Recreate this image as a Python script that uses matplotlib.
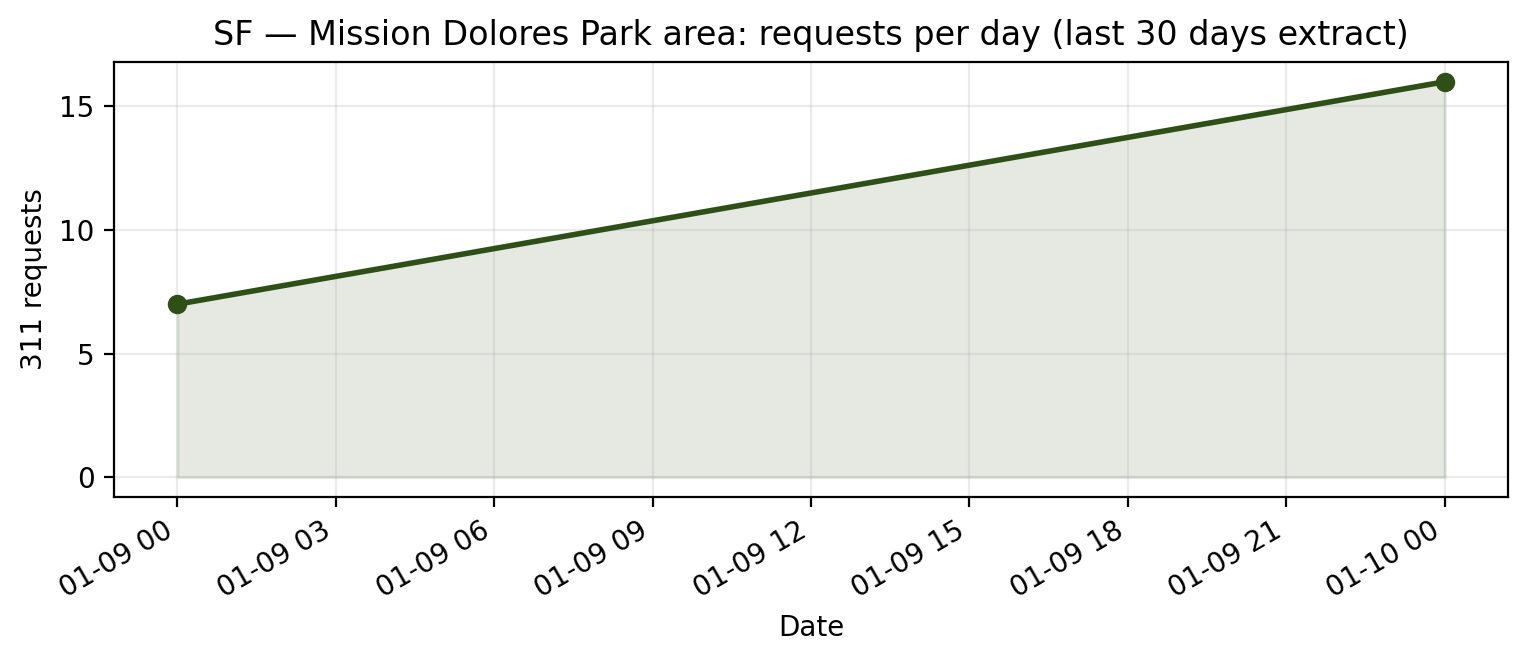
import matplotlib
matplotlib.use("Agg")
import matplotlib.pyplot as plt
import matplotlib.dates as mdates
import pandas as pd

dates = pd.to_datetime(["2024-01-09", "2024-01-10"])
requests = [7, 16]

color = "#2e5016"
fig = plt.figure(figsize=(7.64, 3.315), dpi=200)
ax = fig.add_axes([0.0746, 0.2504, 0.9124, 0.6561])
ax.plot(dates, requests, color=color, linewidth=2.0, marker="o", markersize=6)
ax.fill_between(dates, requests, 0, color=color, alpha=0.12)
ax.set_title("SF — Mission Dolores Park area: requests per day (last 30 days extract)")
ax.set_xlabel("Date")
ax.set_ylabel("311 requests")
ax.grid(True, alpha=0.25)
ax.xaxis.set_major_locator(mdates.HourLocator(byhour=range(0, 24, 3)))
ax.xaxis.set_major_formatter(mdates.DateFormatter("%m-%d %H"))
for lbl in ax.get_xticklabels():
    lbl.set_rotation(30)
    lbl.set_ha("right")
fig.savefig("out.png", dpi=200)
